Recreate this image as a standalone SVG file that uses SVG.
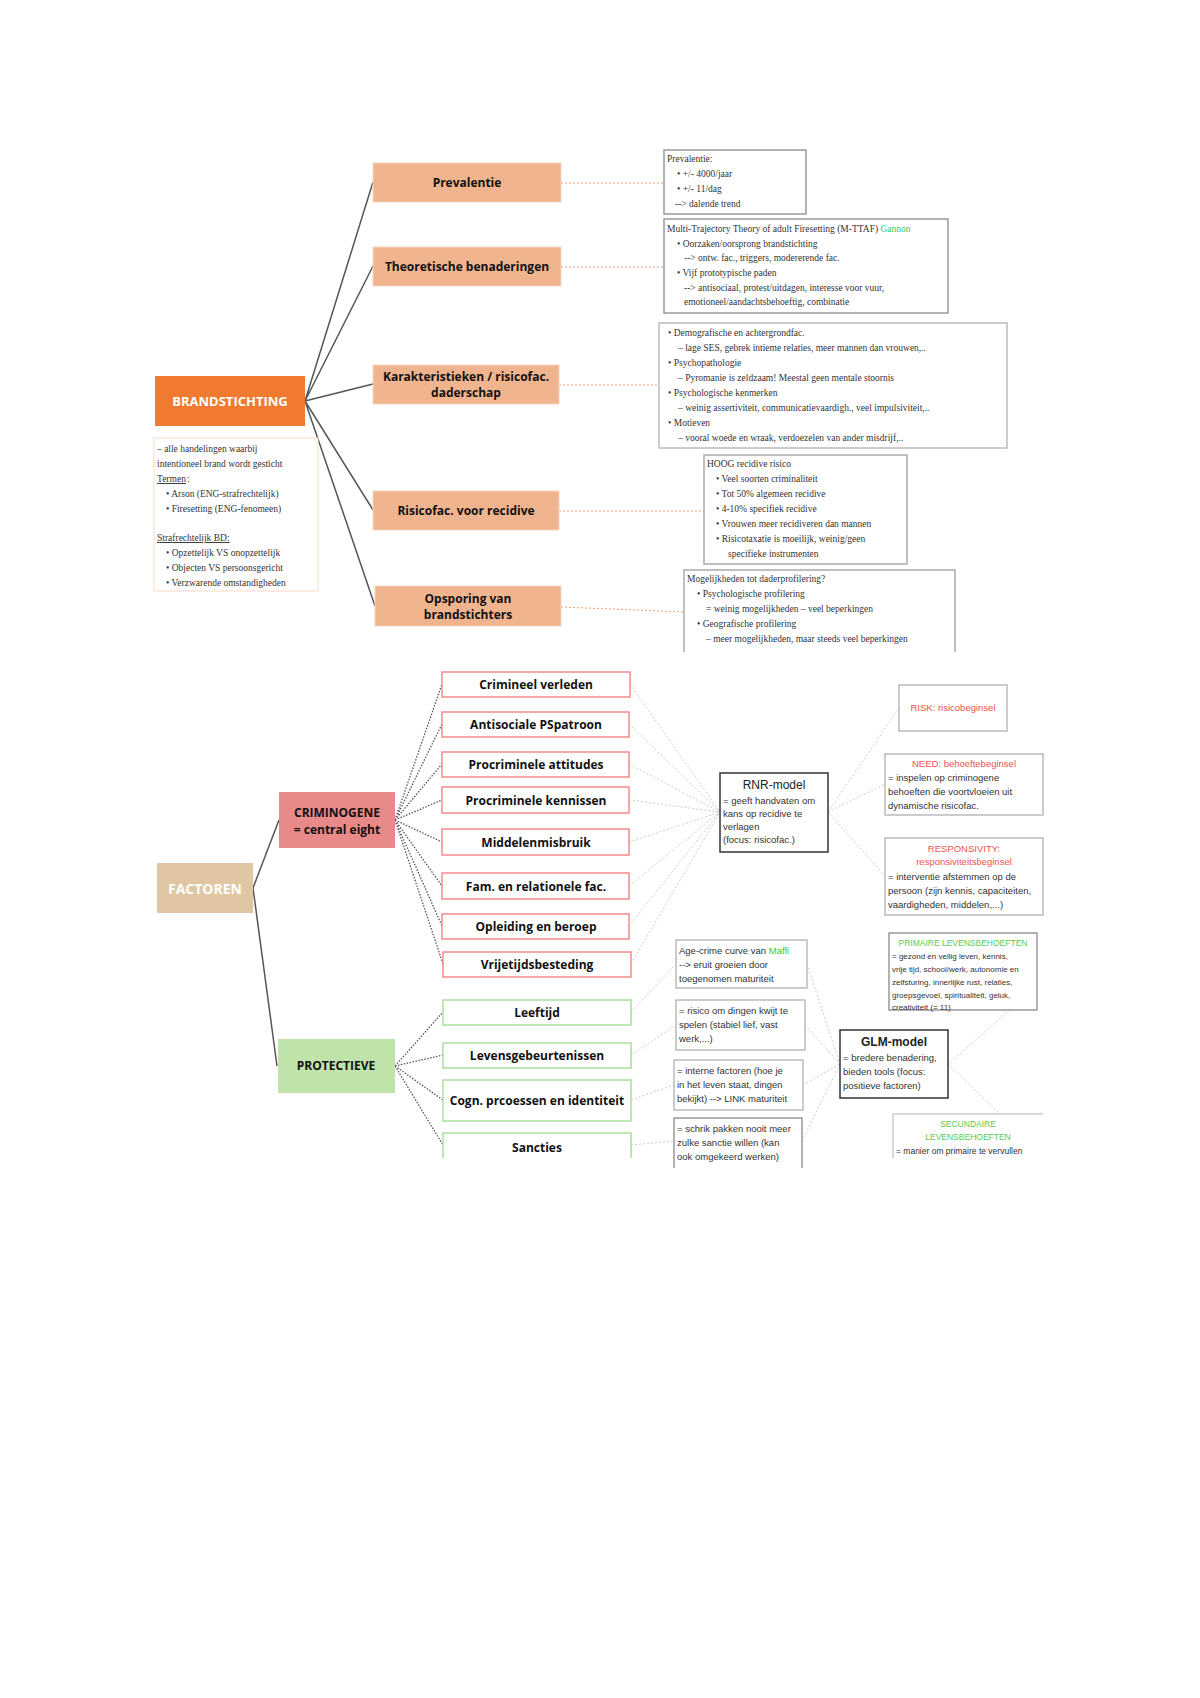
<svg xmlns="http://www.w3.org/2000/svg" width="1200" height="1698" viewBox="0 0 1200 1698">
<style>
.h{font-family:"Open Sans","Liberation Sans",sans-serif;font-weight:bold;font-size:12px;fill:#111;text-anchor:middle}
.n{font-family:"Liberation Serif",serif;font-size:9.5px;fill:#333}
.s{font-family:"Liberation Sans",sans-serif;font-size:9.5px;fill:#333}
.o{fill:#f0b48e;stroke:#f8d3bb}
.r{fill:#fff;stroke:#f58a8a;stroke-width:1.5}
.g{fill:#fff;stroke:#a8e09a;stroke-width:1.5}
.t{fill:#fff;stroke:#999;stroke-width:1.5}
.solid{fill:none;stroke:#555;stroke-width:1.5}
.dotk{fill:none;stroke:#555;stroke-width:1.3;stroke-dasharray:1.5 1.5}
.doto{fill:none;stroke:#f0a070;stroke-width:1;stroke-dasharray:2 2}
.dotg{fill:none;stroke:#ccc;stroke-width:1;stroke-dasharray:2 2}
</style>
<rect width="1200" height="1698" fill="#fff"/>
<g id="connectors">
<path class="solid" d="M305 401L373 182M305 401L373 266M305 401L373 384M305 401L373 510M305 401L375 606"/>
<path class="doto" d="M561 183H664M561 267H664M559 385H658M559 511H704M561 607L684 612"/>
<path class="solid" d="M253 888L279 820M253 888L277 1066"/>
<path class="dotk" d="M395 820L442 684M395 820L442 724M395 820L442 764M395 820L442 800M395 820L442 842M395 820L442 886M395 820L442 926M395 820L443 964"/>
<path class="dotk" d="M395 1066L443 1012M395 1066L443 1055M395 1066L443 1100M395 1066L443 1145"/>
<path class="dotg" d="M630 684L720 812M629 724L720 812M629 764L720 812M629 800L720 812M629 842L720 812M629 886L720 812M629 926L720 812M631 964L720 812M828 812L899 708M828 812L885 784M828 812L885 876"/>
<path class="dotg" d="M631 1012L676 964M631 1055L676 1025M631 1100L674 1085M631 1145L674 1141M807 964L840 1064M805 1025L840 1064M803 1085L840 1064M802 1141L840 1064M948 1064L1010 1010M948 1064L1000 1114"/>
</g>
<g id="brandstichting"><rect x="155" y="376" width="150" height="50" fill="#f07a2f"/><text class="h" x="230" y="406" fill="#fff" style="fill:#fff;font-size:13px">BRANDSTICHTING</text></g>
<g id="def"><rect x="154" y="438" width="164" height="153" fill="#fff" stroke="#fbd9c8"/>
<text class="n" x="157" y="452">– alle handelingen waarbij</text>
<text class="n" x="157" y="467">intentioneel brand wordt gesticht</text>
<text class="n" x="157" y="482" text-decoration="underline">Termen</text><text class="n" x="187" y="482">:</text>
<text class="n" x="166" y="497">•  Arson (ENG-strafrechtelijk)</text>
<text class="n" x="166" y="512">•  Firesetting (ENG-fenomeen)</text>
<text class="n" x="157" y="541" text-decoration="underline">Strafrechtelijk BD:</text>
<text class="n" x="166" y="556">•  Opzettelijk VS onopzettelijk</text>
<text class="n" x="166" y="571">•  Objecten VS persoonsgericht</text>
<text class="n" x="166" y="586">•  Verzwarende omstandigheden</text></g>
<g id="prev"><rect class="o" x="373" y="163" width="188" height="39"/><text class="h" x="467" y="187">Prevalentie</text></g>
<g id="theo"><rect class="o" x="373" y="247" width="188" height="39"/><text class="h" x="467" y="271">Theoretische benaderingen</text></g>
<g id="kar"><rect class="o" x="373" y="365" width="186" height="39"/><text class="h" x="466" y="381">Karakteristieken / risicofac.</text><text class="h" x="466" y="397">daderschap</text></g>
<g id="ris"><rect class="o" x="373" y="491" width="186" height="39"/><text class="h" x="466" y="515">Risicofac. voor recidive</text></g>
<g id="ops"><rect class="o" x="375" y="586" width="186" height="40"/><text class="h" x="468" y="603">Opsporing van</text><text class="h" x="468" y="619">brandstichters</text></g>
<g id="prevnote"><rect class="t" x="664" y="150" width="142" height="64"/>
<text class="n" x="667" y="162">Prevalentie:</text><text class="n" x="677" y="177">•  +/- 4000/jaar</text><text class="n" x="677" y="192">•  +/- 11/dag</text><text class="n" x="675" y="207">--&gt; dalende trend</text></g>
<g id="theonote"><rect class="t" x="664" y="219" width="284" height="94"/>
<text class="n" x="667" y="232">Multi-Trajectory Theory of adult Firesetting (M-TTAF) <tspan fill="#2ecc71">Gannon</tspan></text>
<text class="n" x="677" y="247">•  Oorzaken/oorsprong brandstichting</text>
<text class="n" x="684" y="261">--&gt; ontw. fac., triggers, modererende fac.</text>
<text class="n" x="677" y="276">•  Vijf prototypische paden</text>
<text class="n" x="684" y="291">--&gt; antisociaal, protest/uitdagen, interesse voor vuur,</text>
<text class="n" x="684" y="305">emotioneel/aandachtsbehoeftig, combinatie</text></g>
<g id="karnote"><rect class="t" x="659" y="323" width="348" height="125" style="stroke:#bbb"/>
<text class="n" x="668" y="336">•  Demografische en achtergrondfac.</text>
<text class="n" x="678" y="351">– lage SES, gebrek intieme relaties, meer mannen dan vrouwen,..</text>
<text class="n" x="668" y="366">•  Psychopathologie</text>
<text class="n" x="678" y="381">– Pyromanie is zeldzaam! Meestal geen mentale stoornis</text>
<text class="n" x="668" y="396">•  Psychologische kenmerken</text>
<text class="n" x="678" y="411">– weinig assertiviteit, communicatievaardigh., veel impulsiviteit,..</text>
<text class="n" x="668" y="426">•  Motieven</text>
<text class="n" x="678" y="441">– vooral woede en wraak, verdoezelen van ander misdrijf,..</text></g>
<g id="hoog"><rect class="t" x="704" y="455" width="203" height="109" style="stroke:#aaa"/>
<text class="n" x="707" y="467">HOOG recidive risico</text>
<text class="n" x="716" y="482">•  Veel soorten criminaliteit</text>
<text class="n" x="716" y="497">•  Tot 50% algemeen recidive</text>
<text class="n" x="716" y="512">•  4-10% specifiek recidive</text>
<text class="n" x="716" y="527">•  Vrouwen meer recidiveren dan mannen</text>
<text class="n" x="716" y="542">•  Risicotaxatie  is  moeilijk,  weinig/geen</text>
<text class="n" x="728" y="557">specifieke instrumenten</text></g>
<g id="mog"><path d="M684 652V570H955V652" fill="#fff" stroke="#aaa" stroke-width="1.5"/>
<text class="n" x="687" y="582">Mogelijkheden tot daderprofilering?</text>
<text class="n" x="697" y="597">•  Psychologische profilering</text>
<text class="n" x="706" y="612">= weinig mogelijkheden – veel beperkingen</text>
<text class="n" x="697" y="627">•  Geografische profilering</text>
<text class="n" x="706" y="642">– meer mogelijkheden, maar steeds veel beperkingen</text></g>
<g id="factoren"><rect x="157" y="863" width="96" height="50" fill="#e1c6a4"/><text class="h" x="205" y="894" style="fill:#fff;font-size:14px">FACTOREN</text></g>
<g id="crim"><rect x="279" y="792" width="116" height="56" fill="#e98a8a"/><text class="h" x="337" y="817">CRIMINOGENE</text><text class="h" x="337" y="834">= central eight</text></g>
<g id="prot"><rect x="278" y="1039" width="117" height="54" fill="#bfe3a9"/><text class="h" x="336" y="1070">PROTECTIEVE</text></g>
<g id="c1"><rect class="r" x="442" y="672" width="188" height="25"/><text class="h" x="536" y="689">Crimineel verleden</text></g>
<g id="c2"><rect class="r" x="442" y="712" width="187" height="25"/><text class="h" x="536" y="729">Antisociale PSpatroon</text></g>
<g id="c3"><rect class="r" x="442" y="752" width="187" height="25"/><text class="h" x="536" y="769">Procriminele attitudes</text></g>
<g id="c4"><rect class="r" x="442" y="787" width="187" height="26"/><text class="h" x="536" y="805">Procriminele kennissen</text></g>
<g id="c5"><rect class="r" x="442" y="829" width="187" height="26"/><text class="h" x="536" y="847">Middelenmisbruik</text></g>
<g id="c6"><rect class="r" x="442" y="873" width="187" height="26"/><text class="h" x="536" y="891">Fam. en relationele fac.</text></g>
<g id="c7"><rect class="r" x="442" y="914" width="187" height="25"/><text class="h" x="536" y="931">Opleiding en beroep</text></g>
<g id="c8"><rect class="r" x="443" y="952" width="188" height="25"/><text class="h" x="537" y="969">Vrijetijdsbesteding</text></g>
<g id="p1"><rect class="g" x="443" y="1000" width="188" height="25"/><text class="h" x="537" y="1017">Leeftijd</text></g>
<g id="p2"><rect class="g" x="443" y="1043" width="188" height="25"/><text class="h" x="537" y="1060">Levensgebeurtenissen</text></g>
<g id="p3"><rect class="g" x="443" y="1080" width="188" height="41"/><text class="h" x="537" y="1105">Cogn. prcoessen en identiteit</text></g>
<g id="p4"><path d="M443 1158V1133H631V1158" class="g"/><text class="h" x="537" y="1152">Sancties</text></g>
<g id="rnr"><rect class="t" x="720" y="773" width="108" height="79" style="stroke:#333"/>
<text x="774" y="789" text-anchor="middle" font-family="Liberation Sans,sans-serif" font-size="12" fill="#222">RNR-model</text>
<text class="s" x="723" y="804">= geeft handvaten om</text><text class="s" x="723" y="817">kans op recidive te</text><text class="s" x="723" y="830">verlagen</text><text class="s" x="723" y="843">(focus: risicofac.)</text></g>
<g id="risk"><rect class="t" x="899" y="685" width="108" height="46" style="stroke:#bbb"/><text class="s" x="953" y="711" text-anchor="middle" fill="#f05050" style="fill:#f05050">RISK: risicobeginsel</text></g>
<g id="need"><rect class="t" x="885" y="754" width="158" height="61" style="stroke:#bbb"/><text class="s" x="964" y="767" text-anchor="middle" style="fill:#f05050">NEED: behoeftebeginsel</text>
<text class="s" x="888" y="781">= inspelen op criminogene</text><text class="s" x="888" y="795">behoeften die voortvloeien uit</text><text class="s" x="888" y="809">dynamische risicofac.</text></g>
<g id="resp"><rect class="t" x="885" y="838" width="158" height="77" style="stroke:#bbb"/><text class="s" x="964" y="852" text-anchor="middle" style="fill:#f05050">RESPONSIVITY:</text><text class="s" x="964" y="865" text-anchor="middle" style="fill:#f05050">responsiviteitsbeginsel</text>
<text class="s" x="888" y="880">= interventie afstemmen op de</text><text class="s" x="888" y="894">persoon (zijn kennis, capaciteiten,</text><text class="s" x="888" y="908">vaardigheden, middelen,...)</text></g>
<g id="age"><rect class="t" x="676" y="940" width="131" height="48" style="stroke:#bbb"/><text class="s" x="679" y="954">Age-crime curve van <tspan style="fill:#3c3">Maffi</tspan></text><text class="s" x="679" y="968">--&gt; eruit groeien door</text><text class="s" x="679" y="982">toegenomen maturiteit</text></g>
<g id="risnote"><rect class="t" x="676" y="1000" width="129" height="50" style="stroke:#bbb"/><text class="s" x="679" y="1014">= risico om dingen kwijt te</text><text class="s" x="679" y="1028">spelen (stabiel lief, vast</text><text class="s" x="679" y="1042">werk,...)</text></g>
<g id="intnote"><rect class="t" x="674" y="1060" width="129" height="50" style="stroke:#bbb"/><text class="s" x="677" y="1074">= interne factoren (hoe je</text><text class="s" x="677" y="1088">in het leven staat, dingen</text><text class="s" x="677" y="1102">bekijkt) --&gt; LINK maturiteit</text></g>
<g id="sanote"><path d="M674 1168V1118H802V1168" fill="#fff" stroke="#999" stroke-width="1.5"/><text class="s" x="677" y="1132">= schrik pakken nooit meer</text><text class="s" x="677" y="1146">zulke sanctie willen (kan</text><text class="s" x="677" y="1160">ook omgekeerd werken)</text></g>
<g id="glm"><rect class="t" x="840" y="1030" width="108" height="68" style="stroke:#333"/>
<text x="894" y="1046" text-anchor="middle" font-family="Liberation Sans,sans-serif" font-size="12" font-weight="bold" fill="#222">GLM-model</text>
<text class="s" x="843" y="1061">= bredere benadering,</text><text class="s" x="843" y="1075">bieden tools (focus:</text><text class="s" x="843" y="1089">positieve factoren)</text></g>
<g id="prim"><rect class="t" x="889" y="933" width="148" height="77" style="stroke:#999"/><text class="s" x="963" y="946" text-anchor="middle" style="fill:#5c5;font-size:8.5px">PRIMAIRE LEVENSBEHOEFTEN</text>
<text class="s" x="892" y="959" style="font-size:8px">= gezond en veilig leven, kennis,</text><text class="s" x="892" y="972" style="font-size:8px">vrije tijd, school/werk, autonomie en</text><text class="s" x="892" y="985" style="font-size:8px">zelfsturing, innerlijke rust, relaties,</text><text class="s" x="892" y="998" style="font-size:8px">groepsgevoel, spiritualiteit, geluk,</text><text class="s" x="892" y="1010" style="font-size:8px">creativiteit (= 11)</text></g>
<g id="sec"><path d="M893 1158V1114H1043" fill="#fff" stroke="#ccc" stroke-width="1.5"/><text class="s" x="968" y="1127" text-anchor="middle" style="fill:#5c5;font-size:8.5px">SECUNDAIRE</text><text class="s" x="968" y="1140" text-anchor="middle" style="fill:#5c5;font-size:8.5px">LEVENSBEHOEFTEN</text><text class="s" x="896" y="1154" style="font-size:8.5px">= manier om primaire te vervullen</text></g>
</svg>
